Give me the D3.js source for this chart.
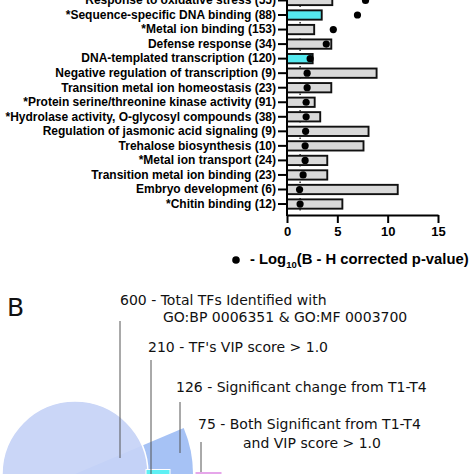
<!DOCTYPE html>
<html>
<head>
<meta charset="utf-8">
<script src="https://cdnjs.cloudflare.com/ajax/libs/d3/7.8.5/d3.min.js"></script>
<style>
body { margin: 0; background: #fff; }
svg { display: block; }
.lbl { font-family: "Liberation Sans", Arial, sans-serif; font-weight: bold; }
.vb { font-family: "DejaVu Sans", Verdana, sans-serif; }
</style>
</head>
<body>
<div id="chart"></div>
<script>
// panel A: GO terms, bar = enrichment, dot = -log10(BH p)
var terms = [
    "Response to oxidative stress (55)",
    "*Sequence-specific DNA binding (88)",
    "*Metal ion binding (153)",
    "Defense response (34)",
    "DNA-templated transcription (120)",
    "Negative regulation of transcription (9)",
    "Transition metal ion homeostasis (23)",
    "*Protein serine/threonine kinase activity (91)",
    "*Hydrolase activity, O-glycosyl compounds (38)",
    "Regulation of jasmonic acid signaling (9)",
    "Trehalose biosynthesis (10)",
    "*Metal ion transport (24)",
    "Transition metal ion binding (23)",
    "Embryo development (6)",
    "*Chitin binding (12)"
];
var barValues = [4.5, 3.45, 2.7, 4.4, 2.55, 8.9, 4.4, 2.75, 3.3, 8.1, 7.6, 4.0, 4.0, 11.0, 5.5];
var dotValues = [7.8, 7.0, 4.6, 3.9, 2.3, 2.0, 2.0, 1.9, 1.9, 1.85, 1.8, 1.8, 1.6, 1.25, 1.3];
var highlighted = [1, 4];
var xTicks = [0, 5, 10, 15];
var cutoff = 1.3;

// panel B: nested counts
var countLabels = [
    ["600 - Total TFs Identified with", "GO:BP 0006351 & GO:MF 0003700"],
    ["210 - TF's VIP score > 1.0"],
    ["126 - Significant change from T1-T4"],
    ["75 - Both Significant from T1-T4", "and VIP score > 1.0"]
];

var W = 474, H = 474;
var svg = d3.select("#chart").append("svg")
    .attr("width", W)
    .attr("height", H);

var x = d3.scaleLinear().domain([0, 15]).range([287, 438]);
var y = d3.scaleBand().domain(terms).range([-6.8, 211.3]).paddingInner(0.36).paddingOuter(0.18);

var A = svg.append("g");

// dotted significance line behind bars
A.append("line")
    .attr("x1", x(cutoff)).attr("x2", x(cutoff))
    .attr("y1", 0).attr("y2", 213)
    .attr("stroke", "#000")
    .attr("stroke-width", 1.2)
    .attr("stroke-dasharray", "1.5,4");

A.selectAll(".bar")
    .data(terms)
    .enter()
    .append("rect")
    .attr("class", "bar")
    .attr("x", x(0))
    .attr("y", function (d) { return y(d); })
    .attr("width", function (d, i) { return x(barValues[i]) - x(0); })
    .attr("height", y.bandwidth())
    .attr("fill", function (d, i) { return highlighted.indexOf(i) >= 0 ? "#55e9ef" : "#d9d9d9"; })
    .attr("stroke", "#111")
    .attr("stroke-width", 1.9);

A.selectAll(".dot")
    .data(terms)
    .enter()
    .append("circle")
    .attr("class", "dot")
    .attr("cx", function (d, i) { return x(dotValues[i]); })
    .attr("cy", function (d) { return y(d) + y.bandwidth() / 2; })
    .attr("r", 3.6)
    .attr("fill", "#000");

var yAxis = A.append("g")
    .attr("transform", "translate(" + x(0) + ",0)")
    .call(d3.axisLeft(y).tickSize(9).tickPadding(2).tickSizeOuter(0));
yAxis.select(".domain").remove();
yAxis.selectAll(".tick line").attr("stroke", "#000").attr("stroke-width", 2);
yAxis.selectAll(".tick text")
    .attr("class", "lbl")
    .attr("font-size", 12)
    .attr("fill", "#000");

A.append("line")
    .attr("x1", x(0)).attr("x2", x(0))
    .attr("y1", -5).attr("y2", 216)
    .attr("stroke", "#000").attr("stroke-width", 2);

var xAxis = A.append("g")
    .attr("transform", "translate(0,215)")
    .call(d3.axisBottom(x).tickValues(xTicks).tickSize(8).tickPadding(4).tickSizeOuter(0));
xAxis.select(".domain").attr("stroke", "#000").attr("stroke-width", 2);
xAxis.selectAll(".tick line").attr("stroke", "#000").attr("stroke-width", 2);
xAxis.selectAll(".tick text")
    .attr("class", "lbl")
    .attr("font-size", 13)
    .attr("fill", "#000");

// legend
A.append("circle").attr("cx", 236).attr("cy", 260).attr("r", 3.8).attr("fill", "#000");
var leg = A.append("text")
    .attr("class", "lbl")
    .attr("x", 250)
    .attr("y", 264)
    .attr("font-size", 14.8)
    .attr("fill", "#000");
leg.append("tspan").text("- Log");
leg.append("tspan").attr("font-size", 9.5).attr("dy", 4).text("10");
leg.append("tspan").attr("dy", -4).text("(B - H corrected p-value)");

// panel B
var B = svg.append("g");
var cx = 75, cy = 474;
var arc = d3.arc()
    .innerRadius(0)
    .outerRadius(118)
    .startAngle(Math.PI / 2 - 0.4)
    .endAngle(Math.PI / 2);
B.append("path")
    .attr("d", arc())
    .attr("transform", "translate(" + cx + "," + cy + ")")
    .attr("fill", "#a6c2f5");
B.append("circle")
    .attr("cx", cx).attr("cy", cy).attr("r", 73)
    .attr("fill", "#c6d3f6")
    .attr("fill-opacity", 0.93)
    .attr("stroke", "#fff")
    .attr("stroke-width", 1.5);
B.append("rect")
    .attr("x", 146).attr("y", 469.5).attr("width", 24).attr("height", 10)
    .attr("fill", "#5ef0f4").attr("stroke", "#fff").attr("stroke-width", 1);
B.append("rect")
    .attr("x", 195).attr("y", 471.5).attr("width", 27).attr("height", 10)
    .attr("fill", "#e6a6ea").attr("stroke", "#fff").attr("stroke-width", 1);

var leaders = [
    { x: 120, y1: 321, y2: 458 },
    { x: 151, y1: 360, y2: 474 },
    { x: 180, y1: 402, y2: 453 },
    { x: 201, y1: 442, y2: 472 }
];
B.selectAll(".leader")
    .data(leaders)
    .enter()
    .append("line")
    .attr("class", "leader")
    .attr("x1", function (d) { return d.x; })
    .attr("x2", function (d) { return d.x; })
    .attr("y1", function (d) { return d.y1; })
    .attr("y2", function (d) { return d.y2; })
    .attr("stroke", "#555")
    .attr("stroke-width", 1);

B.append("text")
    .attr("class", "vb")
    .attr("x", 7).attr("y", 316)
    .attr("font-size", 25)
    .attr("fill", "#111")
    .text("B");

var labelPos = [
    [{ x: 120, y: 305 }, { x: 163, y: 322 }],
    [{ x: 148, y: 352 }],
    [{ x: 176, y: 392 }],
    [{ x: 198, y: 429 }, { x: 243, y: 448 }]
];
countLabels.forEach(function (lines, i) {
    lines.forEach(function (t, j) {
        B.append("text")
            .attr("class", "vb")
            .attr("x", labelPos[i][j].x)
            .attr("y", labelPos[i][j].y)
            .attr("font-size", 14)
            .attr("fill", "#111")
            .text(t);
    });
});

// bottom line, cut off by the frame as in the source figure
B.append("text")
    .attr("class", "vb")
    .attr("x", 240).attr("y", 489)
    .attr("font-size", 20)
    .attr("fill", "#111")
    .text("Tibial-like expression (18)");
</script>
</body>
</html>
